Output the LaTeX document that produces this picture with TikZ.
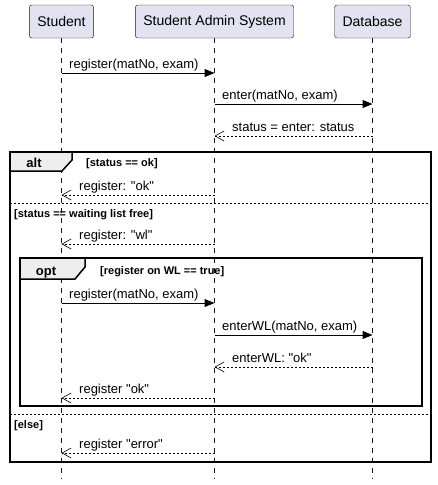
\documentclass[tikz,border=0pt]{standalone}
\usepackage{fontspec}
\setmainfont{Liberation Sans}
\usetikzlibrary{arrows.meta}
\definecolor{partfill}{HTML}{E2E2F0}
\definecolor{partline}{HTML}{181818}
\definecolor{tabfill}{HTML}{EEEEEE}
\newcommand{\qt}[1]{\textquotedbl#1\textquotedbl}

\begin{document}
\begin{tikzpicture}[x=1pt,y=-1pt]
	\tikzstyle{participant}=[draw=partline,fill=partfill,rounded corners=2.5pt,minimum height=33pt,inner xsep=8pt,font=\fontsize{14}{16}\selectfont]
	\tikzstyle{lifeline}=[draw=partline,line width=0.5pt,dash pattern=on 5pt off 5pt]
	\tikzstyle{call}=[line width=1pt,-{Triangle[length=10pt,width=8pt]}]
	\tikzstyle{reply}=[line width=0.6pt,dash pattern=on 2pt off 2pt,-{Straight Barb[length=9pt,width=10pt,line width=0.6pt]}]
	\tikzstyle{msg}=[font=\fontsize{13}{15}\selectfont,inner sep=0pt,anchor=base west]
	\tikzstyle{frame}=[line width=1.5pt,draw=black]
	\tikzstyle{tab}=[line width=1.5pt,draw=black,fill=tabfill]
	\tikzstyle{guard}=[font=\bfseries\fontsize{11}{13}\selectfont,inner sep=0pt,anchor=base west]
	\tikzstyle{kind}=[font=\bfseries\fontsize{13}{15}\selectfont,inner sep=0pt,anchor=base]
	\tikzstyle{separator}=[line width=0.8pt,dash pattern=on 2pt off 2pt]

	\useasboundingbox (0,0) rectangle (437,485);

	% participants
	\node[participant,minimum width=63pt] (student) at (61.5,21.5) {Student};
	\node[participant,minimum width=155pt] (sas) at (214.5,21.5) {Student Admin System};
	\node[participant,minimum width=73pt] (db) at (372.5,21.5) {Database};
	\coordinate (studentEnd) at (61.5,479);
	\coordinate (sasEnd) at (214.5,479);
	\coordinate (dbEnd) at (372.5,479);
	\draw[lifeline] (student) -- (studentEnd);
	\draw[lifeline] (sas) -- (sasEnd);
	\draw[lifeline] (db) -- (dbEnd);

	% alt frame
	\draw[frame] (10,152) rectangle (431,462);
	\draw[tab] (10,152) -- (72,152) -- (72,160) -- (62,171) -- (10,171) -- cycle;
	\node[kind] (altLabel) at (34,167) {alt};
	\node[guard] (altOk) at (86,166) {[status == ok]};
	\draw[separator] (10,203) -- (431,203);
	\node[guard] (altWl) at (14,217) {[status == waiting list free]};
	\draw[separator] (10,414) -- (431,414);
	\node[guard] (altElse) at (14,428) {[else]};

	% opt frame
	\draw[frame] (20,258) rectangle (422,406);
	\draw[tab] (20,258) -- (85,258) -- (85,267) -- (75,279) -- (20,279) -- cycle;
	\node[kind] (optLabel) at (46,275) {opt};
	\node[guard] (optGuard) at (100,274) {[register on WL == true]};

	% messages
	\coordinate (s1) at (61.5,73);   \coordinate (a1) at (214.5,73);
	\coordinate (a2) at (214.5,104); \coordinate (d2) at (372.5,104);
	\coordinate (d3) at (372.5,136); \coordinate (a3) at (214.5,136);
	\coordinate (a4) at (214.5,195); \coordinate (s4) at (61.5,195);
	\coordinate (a5) at (214.5,244); \coordinate (s5) at (61.5,244);
	\coordinate (s6) at (61.5,303);  \coordinate (a6) at (214.5,303);
	\coordinate (a7) at (214.5,335); \coordinate (d7) at (372.5,335);
	\coordinate (d8) at (372.5,367); \coordinate (a8) at (214.5,367);
	\coordinate (a9) at (214.5,398); \coordinate (s9) at (61.5,398);
	\coordinate (a10) at (214.5,453); \coordinate (s10) at (61.5,453);

	\draw[call] (s1) -- (a1);
	\node[msg] (m1) at (69,68) {register(matNo, exam)};
	\draw[call] (a2) -- (d2);
	\node[msg] (m2) at (222,99) {enter(matNo, exam)};
	\draw[reply] (d3) -- (a3);
	\node[msg] (m3) at (232,131) {status = enter: status};
	\draw[reply] (a4) -- (s4);
	\node[msg] (m4) at (79,190) {register: \qt{ok}};
	\draw[reply] (a5) -- (s5);
	\node[msg] (m5) at (79,239) {register: \qt{wl}};
	\draw[call] (s6) -- (a6);
	\node[msg] (m6) at (69,298) {register(matNo, exam)};
	\draw[call] (a7) -- (d7);
	\node[msg] (m7) at (222,330) {enterWL(matNo, exam)};
	\draw[reply] (d8) -- (a8);
	\node[msg] (m8) at (232,362) {enterWL: \qt{ok}};
	\draw[reply] (a9) -- (s9);
	\node[msg] (m9) at (79,393) {register \qt{ok}};
	\draw[reply] (a10) -- (s10);
	\node[msg] (m10) at (79,448) {register \qt{error}};
\end{tikzpicture}
\end{document}
